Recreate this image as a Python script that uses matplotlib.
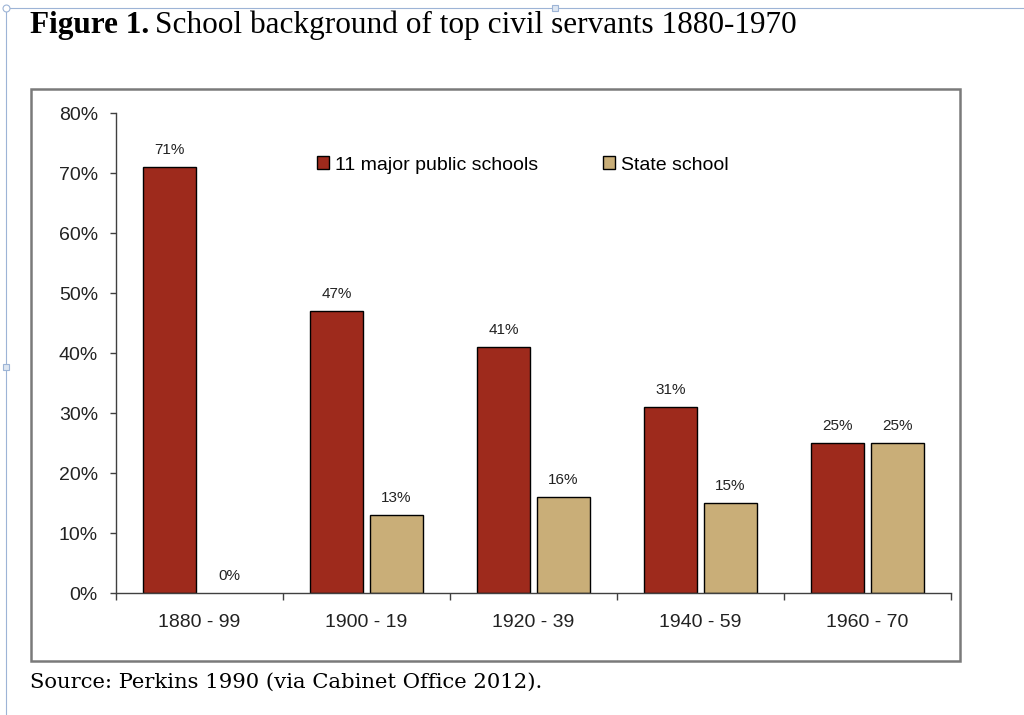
import matplotlib.pyplot as plt
from matplotlib.patches import Rectangle
from matplotlib.lines import Line2D
import numpy as np

# 数据
periods = ['1880 - 99', '1900 - 19', '1920 - 39', '1940 - 59', '1960 - 70']
public_schools = [71, 47, 41, 31, 25]
state_school = [0, 13, 16, 15, 25]
series_names = ['11 major public schools', 'State school']

red = '#9E2A1C'
tan = '#C9AE78'

W, H = 1024, 715
fig = plt.figure(figsize=(W / 100, H / 100), dpi=100)
plt.rcParams['font.family'] = ['Liberation Sans', 'DejaVu Sans']


def fx(px):
    return px / W


def fy(py):
    return 1 - py / H


# Word 图片边框（蓝色细线）
frame = '#9DB4D6'
fig.add_artist(Line2D([fx(6), 1], [fy(8), fy(8)], color=frame, lw=0.8))
fig.add_artist(Line2D([fx(6), fx(6)], [fy(8), 0], color=frame, lw=0.8))
fig.add_artist(Line2D([fx(6)], [fy(8)], marker='o', ms=5, mfc='white', mec=frame, mew=0.8))
fig.add_artist(Line2D([fx(555)], [fy(8)], marker='s', ms=4.5, mfc='#DDE6F2', mec=frame, mew=0.8))
fig.add_artist(Line2D([fx(6)], [fy(367)], marker='s', ms=4.5, mfc='#DDE6F2', mec=frame, mew=0.8))

# 图表外框
fig.add_artist(Rectangle((fx(31), fy(661)), fx(960) - fx(31), fy(89) - fy(661),
                         transform=fig.transFigure, fill=False, ec='#7A7A7A', lw=1.8))

ax = fig.add_axes([fx(116), fy(593), fx(951) - fx(116), fy(113) - fy(593)])

x = np.arange(len(periods))
w = 0.32
off = 0.18
b1 = ax.bar(x - off, public_schools, w, color=red, edgecolor='black', linewidth=1.0,
            label=series_names[0])
b2 = ax.bar(x + off, state_school, w, color=tan, edgecolor='black', linewidth=1.0,
            label=series_names[1])

for rects, vals in ((b1, public_schools), (b2, state_school)):
    for r, v in zip(rects, vals):
        if v == 0:
            r.set_linewidth(0)
        ax.annotate(f'{v}%', (r.get_x() + r.get_width() / 2, v), xytext=(0, 7),
                    textcoords='offset points', ha='center', va='bottom',
                    fontsize=11, color='#222222')

ax.set_xlim(-0.5, len(periods) - 0.5)
ax.set_ylim(0, 80)
ax.set_yticks(np.arange(0, 81, 10))
ax.set_yticklabels([f'{v}%' for v in range(0, 81, 10)])
ax.set_xticks(x)
ax.set_xticklabels(periods)
ax.set_xticks(np.arange(-0.5, len(periods)), minor=True)
ax.tick_params(axis='x', which='major', length=0, pad=15, labelsize=14, labelcolor='#222222')
ax.tick_params(axis='x', which='minor', length=5, width=1, color='#404040')
ax.tick_params(axis='y', length=4.5, width=1, color='#404040', labelsize=14,
               labelcolor='#222222', pad=8.5)
for s in ('top', 'right'):
    ax.spines[s].set_visible(False)
for s in ('left', 'bottom'):
    ax.spines[s].set_color('#404040')
    ax.spines[s].set_linewidth(1.0)

handles = [Rectangle((0, 0), 1, 1, fc=red, ec='black', lw=1),
           Rectangle((0, 0), 1, 1, fc=tan, ec='black', lw=1)]
fig.legend(handles, series_names, loc='center left', bbox_to_anchor=(fx(317), fy(165)),
           ncol=2, frameon=False, fontsize=14, handlelength=0.62, handleheight=0.62,
           handletextpad=0.3, columnspacing=3.35, borderaxespad=0, borderpad=0)

# 标题
fig.canvas.draw()
r = fig.canvas.get_renderer()
t1 = fig.text(fx(30), fy(33), 'Figure 1.', fontsize=22.5, fontweight='bold',
              family='Liberation Serif', va='baseline', color='black')
bb = t1.get_window_extent(renderer=r)
fig.text(bb.x1 / W + fx(6), fy(33), 'School background of top civil servants 1880-1970',
         fontsize=22.5, family='Liberation Serif', va='baseline', color='black')

fig.text(fx(30), fy(688), 'Source: Perkins 1990 (via Cabinet Office 2012).',
         fontsize=15.2, family='DejaVu Serif', va='baseline', color='black')

fig.savefig('out.png', dpi=100)
